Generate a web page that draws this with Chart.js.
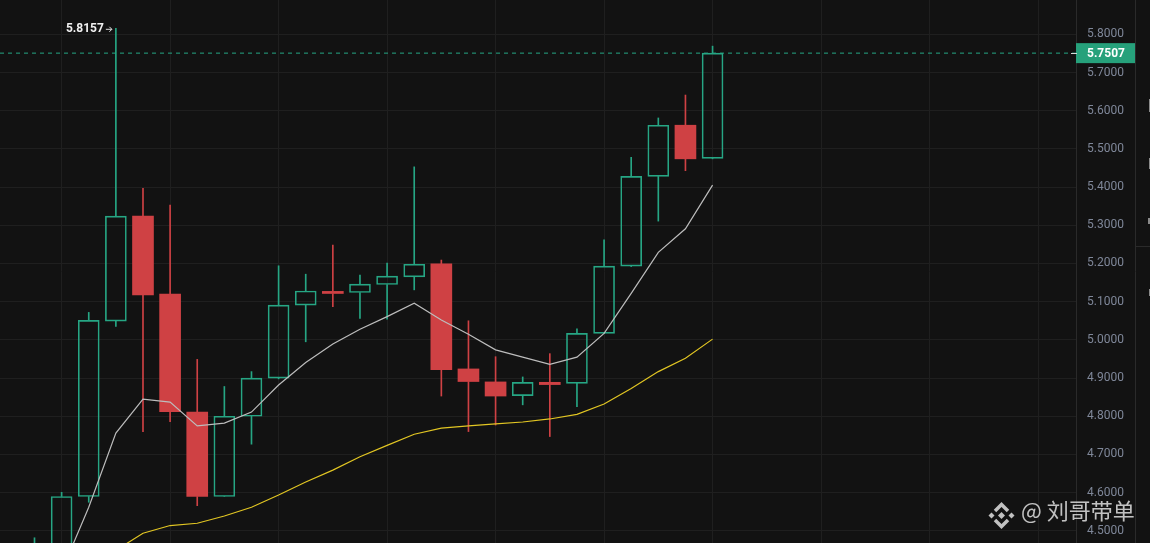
<!DOCTYPE html>
<html>
<head>
<meta charset="utf-8">
<script src="https://cdn.jsdelivr.net/npm/chart.js@4.4.0/dist/chart.umd.min.js"></script>
<style>
  html, body { margin: 0; padding: 0; background: #121212; }
  #wrap { position: relative; width: 1150px; height: 543px; }
</style>
</head>
<body>
<div id="wrap"><canvas id="myChart"></canvas></div>
<script>
//Candle slots, 0 = leftmost (mostly cut off at the bottom)
const slots = [0,1,2,3,4,5,6,7,8,9,10,11,12,13,14,15,16,17,18,19,20,21,22,23,24,25];
const opens  = [4.400,4.430,4.590,5.049,5.324,5.120,4.811,4.590,4.800,4.900,5.091,5.127,5.124,5.145,5.165,5.199,4.924,4.890,4.854,4.889,4.886,5.017,5.193,5.428,5.562,5.475];
const highs  = [4.482,4.601,5.072,5.8157,5.397,5.353,4.949,4.878,4.917,5.194,5.172,5.248,5.170,5.201,5.453,5.209,5.050,4.956,4.903,4.964,5.029,5.262,5.478,5.581,5.641,5.769];
const lows   = [4.380,4.410,4.575,5.035,4.760,4.786,4.566,4.590,4.727,4.898,4.995,5.087,5.056,5.054,5.131,4.853,4.760,4.777,4.830,4.747,4.825,5.016,5.192,5.311,5.443,5.474];
const closes = [4.455,4.590,5.051,5.324,5.118,4.812,4.590,4.800,4.900,5.091,5.128,5.1215,5.146,5.167,5.198,4.922,4.891,4.853,4.889,4.883,5.017,5.193,5.428,5.562,5.474,5.7507];
//Moving averages (white = short, yellow = long)
const maShort = [4.330,4.394,4.562,4.756,4.845,4.837,4.775,4.782,4.811,4.882,4.941,4.989,5.028,5.061,5.096,5.052,5.015,4.974,4.955,4.936,4.955,5.017,5.122,5.229,5.291,5.405];
const maLong  = [4.370,4.395,4.420,4.449,4.494,4.514,4.520,4.539,4.562,4.594,4.628,4.659,4.694,4.724,4.753,4.769,4.775,4.780,4.785,4.793,4.805,4.832,4.873,4.917,4.952,5.002];
//Axis ticks
const priceTicks = [4.5,4.6,4.7,4.8,4.9,5.0,5.1,5.2,5.3,5.4,5.5,5.6,5.7,5.8];
const gridSlots = [1,5,9,13,17,21,25,29,33,37];
const lastPrice = 5.7507;
const peakPrice = 5.8157;
const peakSlot = 3;

const UP = '#26a684';
const DOWN = '#cf4144';
const xMin = -1.272, xMax = 38.40;

const isUp = slots.map(i => closes[i] >= opens[i]);

//Bodies and wicks as floating bars
const bodyData = slots.map(i => ({ x: i, y: [opens[i], closes[i]] }));
const upperWick = slots.map(i => ({ x: i, y: [Math.max(opens[i], closes[i]), highs[i]] }));
const lowerWick = slots.map(i => ({ x: i, y: [lows[i], Math.min(opens[i], closes[i])] }));
const candleColor = slots.map(i => isUp[i] ? UP : DOWN);

//Draws the extras: price tag, peak label, watermark, side strip
const extrasPlugin = {
  id: 'extras',
  afterDraw(chart) {
    const ctx = chart.ctx;
    const y = chart.scales.y;
    const x = chart.scales.x;
    ctx.save();

    //side strip on the far right
    ctx.strokeStyle = '#2a2a2a';
    ctx.lineWidth = 1;
    ctx.beginPath();
    ctx.moveTo(1135.5, 0); ctx.lineTo(1135.5, 543);
    ctx.moveTo(1136, 246.5); ctx.lineTo(1150, 246.5);
    ctx.stroke();
    ctx.fillStyle = '#8a8a8a';
    ctx.fillRect(1149, 99, 1, 13);
    ctx.fillRect(1149, 158, 1, 11);
    ctx.fillRect(1148, 218, 2, 6);
    ctx.fillRect(1149, 289, 1, 7);

    //last price tag
    const py = y.getPixelForValue(lastPrice);
    ctx.fillStyle = '#26a17b';
    ctx.fillRect(1076, py - 10, 59, 20);
    ctx.strokeStyle = '#d8d8d8';
    ctx.beginPath();
    ctx.moveTo(1071, Math.round(py) + 0.5); ctx.lineTo(1077, Math.round(py) + 0.5);
    ctx.stroke();
    ctx.fillStyle = '#ffffff';
    ctx.font = 'bold 12px Roboto';
    ctx.textAlign = 'left';
    ctx.textBaseline = 'middle';
    ctx.fillText(lastPrice.toFixed(4), 1087, py + 0.5);

    //peak label with arrow
    const hx = x.getPixelForValue(peakSlot);
    const hy = y.getPixelForValue(peakPrice);
    ctx.font = 'bold 12px Roboto';
    ctx.textAlign = 'right';
    ctx.fillStyle = '#f0f0f0';
    ctx.fillText(peakPrice.toFixed(4), hx - 12, hy + 0.5);
    ctx.strokeStyle = '#e0e0e0';
    ctx.beginPath();
    ctx.moveTo(hx - 10, hy + 1); ctx.lineTo(hx - 4, hy + 1);
    ctx.moveTo(hx - 6.5, hy - 1.5); ctx.lineTo(hx - 4, hy + 1); ctx.lineTo(hx - 6.5, hy + 3.5);
    ctx.stroke();

    //watermark
    ctx.fillStyle = 'rgba(225,225,225,0.85)';
    ctx.strokeStyle = 'rgba(225,225,225,0.85)';
    const cx = 1001.5, cy = 515.5;
    const diamond = (dx, dy, r) => {
      ctx.beginPath();
      ctx.moveTo(cx + dx, cy + dy - r); ctx.lineTo(cx + dx + r, cy + dy);
      ctx.lineTo(cx + dx, cy + dy + r); ctx.lineTo(cx + dx - r, cy + dy);
      ctx.closePath(); ctx.fill();
    };
    diamond(0, 0, 3.5);
    diamond(-10, 0, 3);
    diamond(10, 0, 3);
    ctx.lineWidth = 3.5;
    ctx.lineJoin = 'miter';
    ctx.beginPath();
    ctx.moveTo(cx - 6.5, cy - 4.5); ctx.lineTo(cx, cy - 11); ctx.lineTo(cx + 6.5, cy - 4.5);
    ctx.moveTo(cx - 6.5, cy + 4.5); ctx.lineTo(cx, cy + 11); ctx.lineTo(cx + 6.5, cy + 4.5);
    ctx.stroke();
    ctx.font = '22px "Noto Sans CJK SC", "Noto Sans", sans-serif';
    ctx.textAlign = 'left';
    ctx.textBaseline = 'alphabetic';
    ctx.fillText('@ 刘哥带单', 1021, cy + 3);

    ctx.restore();
  }
};

const ctx = document.getElementById('myChart').getContext('2d');
new Chart(ctx, {
  type: 'bar',
  data: {
    datasets: [
      {
        type: 'line',
        data: [{ x: xMin, y: lastPrice }, { x: xMax, y: lastPrice }],
        borderColor: '#26a684',
        borderWidth: 1,
        borderDash: [4, 4],
        pointRadius: 0,
      },
      {
        type: 'line',
        data: slots.map(i => ({ x: i, y: maShort[i] })),
        borderColor: '#bdbdbd',
        borderWidth: 1.2,
        pointRadius: 0,
        tension: 0,
      },
      {
        type: 'line',
        data: slots.map(i => ({ x: i, y: maLong[i] })),
        borderColor: '#e2c623',
        borderWidth: 1.2,
        pointRadius: 0,
        tension: 0,
      },
      {
        data: bodyData,
        backgroundColor: slots.map(i => isUp[i] ? 'rgba(0,0,0,0)' : DOWN),
        borderColor: candleColor,
        borderWidth: slots.map(i => isUp[i] ? 1 : 0),
        borderSkipped: false,
        barThickness: 21,
        grouped: false,
      },
      {
        data: upperWick,
        backgroundColor: candleColor,
        borderWidth: 0,
        barThickness: 1,
        grouped: false,
      },
      {
        data: lowerWick,
        backgroundColor: candleColor,
        borderWidth: 0,
        barThickness: 1,
        grouped: false,
      },
    ],
  },
  options: {
    responsive: true,
    maintainAspectRatio: false,
    animation: false,
    layout: { padding: 0 },
    plugins: { legend: { display: false }, tooltip: { enabled: false } },
    scales: {
      x: {
        type: 'linear',
        min: xMin,
        max: xMax,
        offset: false,
        ticks: { display: false },
        grid: { color: '#1f1f1f', drawTicks: false, offset: false },
        border: { display: false },
        afterBuildTicks: (scale) => { scale.ticks = gridSlots.map(v => ({ value: v })); },
        afterFit: (scale) => { scale.height = 0; },
      },
      y: {
        type: 'linear',
        position: 'right',
        min: 4.4683,
        max: 5.8898,
        grid: { color: '#1f1f1f', drawTicks: false },
        border: { display: true, color: '#2a2a2a' },
        ticks: {
          color: '#7f8799',
          padding: 11,
          autoSkip: false,
          font: { family: 'Roboto', size: 12 },
          callback: (v) => v.toFixed(4),
        },
        afterBuildTicks: (scale) => { scale.ticks = priceTicks.map(v => ({ value: v })); },
        //fixed axis width, and no extra room above/below the plot
        afterFit: (scale) => { scale.width = 74; scale.paddingTop = 0; scale.paddingBottom = 0; },
      },
    },
  },
  plugins: [extrasPlugin],
});
</script>
</body>
</html>
